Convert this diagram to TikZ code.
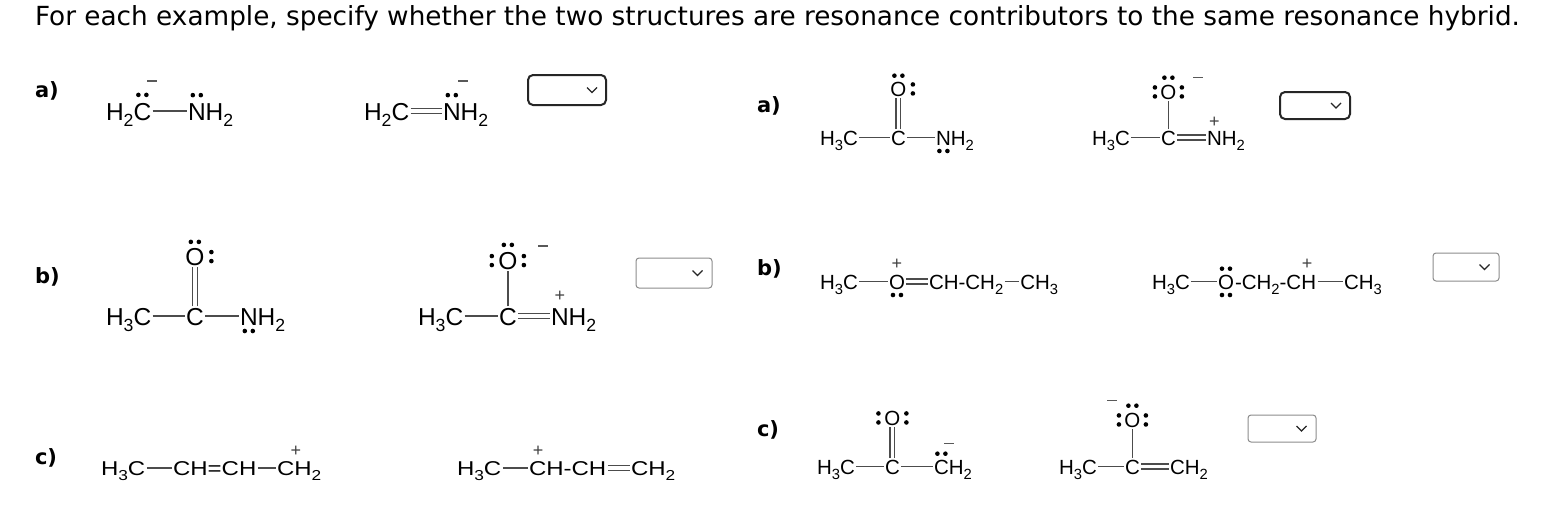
\documentclass[tikz,border=0pt]{standalone}
\usepackage{fontspec}
\usepackage{graphicx}
\setmainfont{Liberation Sans}
\newfontfamily\titlefont{DejaVu Sans}
\usetikzlibrary{calc}
\newcommand\sbs[1]{\raisebox{-0.27em}{\scalebox{0.72}{#1}}}
\newcommand\sx[1]{\scalebox{1.2}[1]{#1}}
\tikzset{
  tx/.style={inner sep=0pt, outer sep=0pt, anchor=base west},
  L/.style={tx, font=\fontsize{24.5}{26}\selectfont},
  R/.style={tx, font=\fontsize{20.5}{22}\selectfont},
  C/.style={tx, font=\fontsize{20}{22}\selectfont},
  bd/.style={line width=1.4pt, draw=black!70, shorten <=1.5pt, shorten >=1.5pt},
  chg/.style={inner sep=0pt, font=\fontsize{18}{18}\selectfont, text=black!75},
  lbl/.style={tx, font=\titlefont\bfseries\fontsize{21}{24}\selectfont},
  boxA/.style={draw=black!85, line width=2pt, rounded corners=5pt, inner sep=0pt},
  boxB/.style={draw=black!45, line width=1pt, rounded corners=3pt, inner sep=0pt},
}
\newcommand\bnd[3]{\draw[bd] ([yshift=#1]#2.base east) -- ([yshift=#1]#3.base west);}
\newcommand\dbnd[3]{\draw[bd] ([yshift=#1+2.6pt]#2.base east) -- ([yshift=#1+2.6pt]#3.base west);
  \draw[bd] ([yshift=#1-2.6pt]#2.base east) -- ([yshift=#1-2.6pt]#3.base west);}
\newcommand\pH[3]{\fill[black] ([xshift=#1-4pt,yshift=#2]#3) circle (2.3pt) ([xshift=#1+4pt,yshift=#2]#3) circle (2.3pt);}
\newcommand\pV[3]{\fill[black] ([xshift=#1,yshift=#2-4.5pt]#3) circle (2.3pt) ([xshift=#1,yshift=#2+4.5pt]#3) circle (2.3pt);}
\newcommand\mns[3]{\draw[line width=1.4pt, black!65] ([xshift=#1-5pt,yshift=#2]#3) -- ([xshift=#1+5pt,yshift=#2]#3);}
\newcommand\chev[1]{\draw[line width=1.3pt, black!85] ([xshift=-20pt,yshift=2.5pt]#1.east) -- ([xshift=-15pt,yshift=-2.5pt]#1.east) -- ([xshift=-10pt,yshift=2.5pt]#1.east);}
\begin{document}
\begin{tikzpicture}[x=1pt,y=-1pt]
\fill[white] (0,0) rectangle (1549,523);
\useasboundingbox (0,0) rectangle (1549,523);

\node[tx] (title) at (35,25) {\resizebox{1485pt}{!}{\titlefont For each example, specify whether the two structures are resonance contributors to the same resonance hybrid.}};

\node[lbl] (la) at (35,97) {a)};
\node[lbl] (lb) at (35,283) {b)};
\node[lbl] (lc) at (35,464) {c)};
\node[lbl] (ra) at (757,112) {a)};
\node[lbl] (rb) at (757,275) {b)};
\node[lbl] (rc) at (757,436) {c)};

% ---------- left a ----------
\node[L] (a1c) at (106,120) {H\sbs{2}C};
\node[L] (a1n) at (188,120) {NH\sbs{2}};
\bnd{9pt}{a1c}{a1n}
\pH{-8.8pt}{8pt}{a1c.north east}
\mns{1pt}{22pt}{a1c.north east}
\pH{8.8pt}{8pt}{a1n.north west}

\node[L] (a2c) at (364,120) {H\sbs{2}C};
\node[L] (a2n) at (443,120) {NH\sbs{2}};
\dbnd{9pt}{a2c}{a2n}
\pH{8.8pt}{8pt}{a2n.north west}
\mns{20pt}{22pt}{a2n.north west}

\node[boxA, minimum width=78pt, minimum height=30pt] (dd1) at (567,90) {};
\chev{dd1}

% ---------- left b ----------
\node[L] (b1h) at (106,325) {H\sbs{3}C};
\node[L] (b1c) at (186,325) {C};
\node[L] (b1n) at (240,325) {NH\sbs{2}};
\bnd{9pt}{b1h}{b1c}
\bnd{9pt}{b1c}{b1n}
\node[L, anchor=base] (b1o) at ([yshift=60pt]b1c.base) {O};
\draw[bd] ([xshift=-2.6pt]b1c.north) -- ([xshift=-2.6pt]b1o.south);
\draw[bd] ([xshift=2.6pt]b1c.north) -- ([xshift=2.6pt]b1o.south);
\pH{0pt}{6pt}{b1o.north}
\pV{7pt}{0pt}{b1o.east}
\pH{8.8pt}{-6pt}{b1n.base west}

\node[L] (b2h) at (418,325) {H\sbs{3}C};
\node[L] (b2c) at (499,325) {C};
\node[L] (b2n) at (551,325) {NH\sbs{2}};
\bnd{9pt}{b2h}{b2c}
\dbnd{9pt}{b2c}{b2n}
\node[chg] (b2p) at ([xshift=8.8pt,yshift=12pt]b2n.north west) {+};
\node[L, anchor=base] (b2o) at ([yshift=56pt]b2c.base) {O};
\draw[bd] (b2c.north) -- (b2o.south);
\pH{0pt}{7pt}{b2o.north}
\pV{-6.5pt}{0pt}{b2o.west}
\pV{6.5pt}{0pt}{b2o.east}
\mns{26pt}{6pt}{b2o.north east}

\node[boxB, minimum width=76pt, minimum height=30pt] (dd2) at (674,273) {};
\chev{dd2}

% ---------- left c ----------
\node[C] (c1h) at (101,475) {\sx{H\sbs{3}C}};
\node[C] (c1m) at (173,475) {\sx{CH=CH}};
\node[C] (c1e) at (277,475) {\sx{CH\sbs{2}}};
\bnd{7pt}{c1h}{c1m}
\bnd{7pt}{c1m}{c1e}
\node[chg] (c1p) at ([xshift=19pt,yshift=10pt]c1e.north west) {+};

\node[C] (c2h) at (457,475) {\sx{H\sbs{3}C}};
\node[C] (c2m) at (529,475) {\sx{CH-CH}};
\node[C] (c2e) at (631,475) {\sx{CH\sbs{2}}};
\bnd{7pt}{c2h}{c2m}
\dbnd{7pt}{c2m}{c2e}
\node[chg] (c2p) at ([xshift=9pt,yshift=10pt]c2m.north west) {+};

% ---------- right a ----------
\node[R] (ra1h) at (820,145) {H\sbs{3}C};
\node[R] (ra1c) at (891,145) {C};
\node[R] (ra1n) at (936,145) {NH\sbs{2}};
\bnd{7.5pt}{ra1h}{ra1c}
\bnd{7.5pt}{ra1c}{ra1n}
\node[R, anchor=base] (ra1o) at ([yshift=49pt]ra1c.base) {O};
\draw[bd] ([xshift=-2.3pt]ra1c.north) -- ([xshift=-2.3pt]ra1o.south);
\draw[bd] ([xshift=2.3pt]ra1c.north) -- ([xshift=2.3pt]ra1o.south);
\pH{0pt}{6pt}{ra1o.north}
\pV{6.5pt}{0pt}{ra1o.east}
\pH{7.4pt}{-6pt}{ra1n.base west}

\node[R] (ra2h) at (1092,145) {H\sbs{3}C};
\node[R] (ra2c) at (1161,145) {C};
\node[R] (ra2n) at (1207,145) {NH\sbs{2}};
\bnd{7.5pt}{ra2h}{ra2c}
\dbnd{7.5pt}{ra2c}{ra2n}
\node[chg] (ra2p) at ([xshift=7.4pt,yshift=9pt]ra2n.north west) {+};
\node[R, anchor=base] (ra2o) at ([yshift=46pt]ra2c.base) {O};
\draw[bd] (ra2c.north) -- (ra2o.south);
\pH{0pt}{7pt}{ra2o.north}
\pV{-5.5pt}{0pt}{ra2o.west}
\pV{5.5pt}{0pt}{ra2o.east}
\mns{22pt}{7pt}{ra2o.north east}

\node[boxA, minimum width=70pt, minimum height=27pt] (dd3) at (1315,105.5) {};
\chev{dd3}

% ---------- right b ----------
\node[R] (rb1h) at (820,289) {H\sbs{3}C};
\node[R] (rb1o) at (889,289) {O};
\node[R] (rb1m) at (929,289) {CH-CH\sbs{2}};
\node[R] (rb1e) at ([xshift=17pt]rb1m.base east) {CH\sbs{3}};
\bnd{7.5pt}{rb1h}{rb1o}
\dbnd{7.5pt}{rb1o}{rb1m}
\bnd{7.5pt}{rb1m}{rb1e}
\node[chg] (rb1p) at ([yshift=10pt]rb1o.north) {+};
\pH{0pt}{-6pt}{rb1o.base}

\node[R] (rb2h) at (1152,289) {H\sbs{3}C};
\node[R] (rb2o) at (1218,289) {O};
\node[R] (rb2m) at (1235,289) {-CH\sbs{2}-CH};
\node[R] (rb2e) at ([xshift=28pt]rb2m.base east) {CH\sbs{3}};
\bnd{7.5pt}{rb2h}{rb2o}
\bnd{7.5pt}{rb2m}{rb2e}
\node[chg] (rb2p) at ([xshift=-9pt,yshift=10pt]rb2m.north east) {+};
\pH{0pt}{6pt}{rb2o.north}
\pH{0pt}{-6pt}{rb2o.base}

\node[boxB, minimum width=66pt, minimum height=28pt] (dd4) at (1466,267) {};
\chev{dd4}

% ---------- right c ----------
\node[R] (rc1h) at (817,474) {H\sbs{3}C};
\node[R] (rc1c) at (885,474) {C};
\node[R] (rc1e) at (934,474) {CH\sbs{2}};
\bnd{7.5pt}{rc1h}{rc1c}
\bnd{7.5pt}{rc1c}{rc1e}
\node[R, anchor=base] (rc1o) at ([yshift=49pt]rc1c.base) {O};
\draw[bd] ([xshift=-2.3pt]rc1c.north) -- ([xshift=-2.3pt]rc1o.south);
\draw[bd] ([xshift=2.3pt]rc1c.north) -- ([xshift=2.3pt]rc1o.south);
\pV{-6pt}{0pt}{rc1o.west}
\pV{6pt}{0pt}{rc1o.east}
\pH{7.4pt}{6pt}{rc1e.north west}
\mns{15pt}{16pt}{rc1e.north west}

\node[R] (rc2h) at (1059,474) {H\sbs{3}C};
\node[R] (rc2c) at (1125,474) {C};
\node[R] (rc2e) at (1170,474) {CH\sbs{2}};
\bnd{7.5pt}{rc2h}{rc2c}
\dbnd{7.5pt}{rc2c}{rc2e}
\node[R, anchor=base] (rc2o) at ([yshift=47pt]rc2c.base) {O};
\draw[bd] (rc2c.north) -- (rc2o.south);
\pH{0pt}{7pt}{rc2o.north}
\pV{-5.5pt}{0pt}{rc2o.west}
\pV{5.5pt}{0pt}{rc2o.east}
\mns{-12pt}{12pt}{rc2o.north west}

\node[boxB, minimum width=68pt, minimum height=27pt] (dd5) at (1282,428.5) {};
\chev{dd5}
\end{tikzpicture}
\end{document}
